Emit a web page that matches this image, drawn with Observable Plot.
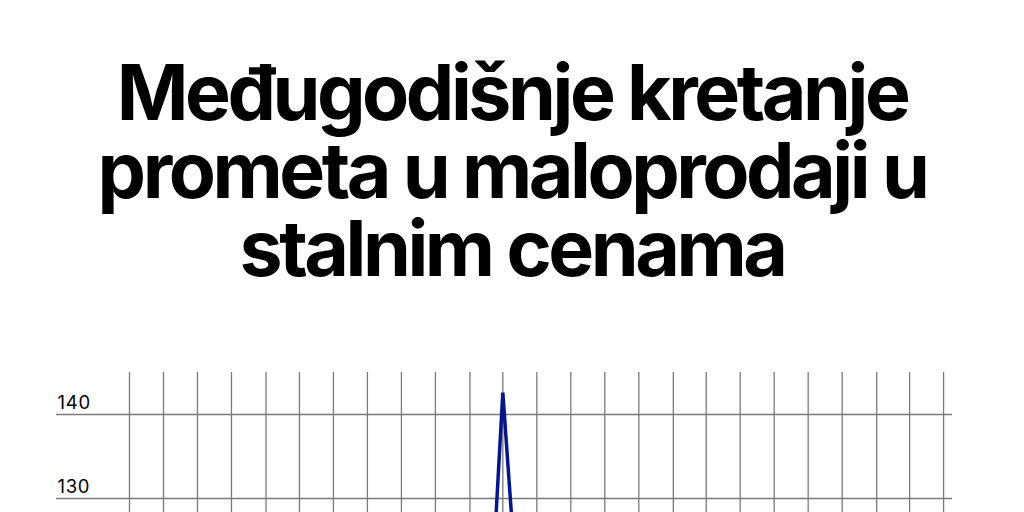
<!DOCTYPE html>
<html>
<head>
<meta charset="utf-8">
<script src="https://cdn.jsdelivr.net/npm/d3@7"></script>
<script src="https://cdn.jsdelivr.net/npm/@observablehq/plot@0.6"></script>
<style>
  html, body { margin: 0; padding: 0; background: #fff; }
  body { width: 1024px; height: 512px; overflow: hidden; position: relative; }
  #title {
    position: absolute; left: 0; top: 53px; width: 1024px;
    margin: 0; text-align: center; color: #000;
    font-family: Inter, "Liberation Sans", sans-serif; font-weight: 700;
    font-size: 77px; line-height: 78px; letter-spacing: -0.045em;
  }
  #chart { position: absolute; left: 0; top: 340px; }
</style>
</head>
<body>
<h1 id="title">Međugodišnje kretanje<br>prometa u maloprodaji u<br>stalnim cenama</h1>
<div id="chart"></div>
<script>
// Monthly year-over-year index (same month of previous year = 100), constant prices
const months = [
  "2019-02","2019-03","2019-04","2019-05","2019-06","2019-07","2019-08","2019-09","2019-10","2019-11","2019-12",
  "2020-01","2020-02","2020-03","2020-04","2020-05","2020-06","2020-07","2020-08","2020-09","2020-10","2020-11","2020-12",
  "2021-01","2021-02","2021-03","2021-04","2021-05","2021-06","2021-07","2021-08","2021-09","2021-10","2021-11","2021-12",
  "2022-01","2022-02","2022-03","2022-04","2022-05","2022-06","2022-07","2022-08","2022-09","2022-10","2022-11","2022-12",
  "2023-01","2023-02","2023-03","2023-04","2023-05","2023-06"
];
const values = [
  107.6,108.1,112.4,108.0,108.6,111.6,110.3,110.7,112.0,108.2,108.6,
  107.7,107.3,101.6,82.1,98.5,105.4,103.3,103.5,104.3,103.9,102.6,103.2,
  101.3,100.7,105.6,142.6,114.5,111.5,109.0,108.0,107.5,109.6,108.5,107.2,
  108.8,109.5,106.8,103.3,103.2,102.4,101.5,101.0,101.4,100.3,100.6,100.8,
  98.9,99.3,98.5,101.2,101.3,101.7
];
const yTicks = [80, 90, 100, 110, 120, 130, 140];
const gridStart = "2019-06";
const gridEnd = "2023-07";

const parse = d3.utcParse("%Y-%m");
const data = months.map((m, i) => ({date: parse(m), value: values[i]}));
const gridDates = d3.utcMonths(parse(gridStart), parse(gridEnd), 2);

const chart = Plot.plot({
  width: 1024,
  height: 32 + 546 + 40,
  marginTop: 32,
  marginBottom: 40,
  marginLeft: 56,
  marginRight: 72,
  x: {type: "utc", domain: [new Date(Date.UTC(2019, 0, 21)), new Date(Date.UTC(2023, 5, 17))], axis: null},
  y: {domain: [80, 145], axis: null},
  style: {fontFamily: "Inter, 'Liberation Sans', sans-serif", background: "#fff"},
  marks: [
    Plot.ruleX(gridDates, {stroke: "#7a7a7a", strokeWidth: 1.3}),
    Plot.ruleY(yTicks, {stroke: "#7a7a7a", strokeWidth: 1.3}),
    Plot.text(yTicks, {
      y: d => d, text: d => String(d), frameAnchor: "left",
      textAnchor: "start", lineAnchor: "bottom", dx: 1, dy: -6,
      fontSize: 18.5, fontWeight: 400, fill: "#000"
    }),
    Plot.line(data, {x: "date", y: "value", stroke: "#06168a", strokeWidth: 3.5, strokeLinejoin: "miter"})
  ]
});
chart.querySelectorAll("text").forEach(t => t.style.letterSpacing = "0.7px");
document.getElementById("chart").appendChild(chart);
</script>
</body>
</html>
